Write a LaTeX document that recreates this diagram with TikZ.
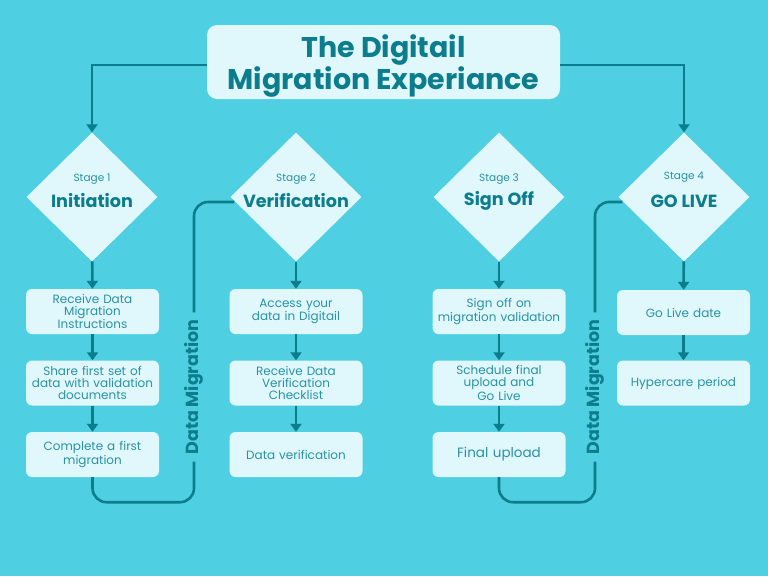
\documentclass[tikz,border=0pt]{standalone}
\usepackage{fontspec}
\setmainfont{Poppins}
\usepackage{tikz}
\usetikzlibrary{positioning}
\usetikzlibrary{shapes.geometric}
\usetikzlibrary{arrows.meta}
\definecolor{bgcyan}{HTML}{4ECFE2}
\definecolor{paleblue}{HTML}{E0F7FC}
\definecolor{darkteal}{HTML}{0B7D8C}
\definecolor{softteal}{HTML}{2893A3}
\tikzset{
    titlebox/.style = {rectangle, rounded corners=10pt, fill=paleblue, minimum width=353pt, minimum height=74pt, align=center, text=darkteal, text depth=0pt, font=\fontsize{28.5}{30}\selectfont\bfseries},
    stagenode/.style = {diamond, fill=paleblue, minimum width=131pt, minimum height=129pt, inner sep=0pt},
    stagelbl/.style = {text=softteal, font=\fontsize{10.5}{12}\selectfont},
    stagename/.style = {text=darkteal, font=\fontsize{17.6}{20}\selectfont\bfseries},
    stepnode/.style = {rectangle, rounded corners=6pt, fill=paleblue, minimum width=133pt, minimum height=45pt, text width=129pt, align=center, text=softteal, inner sep=2pt, font=\fontsize{12}{12}\selectfont},
    flow/.style = {draw=darkteal, line width=2.6pt},
    arr/.style = {flow, -{Triangle[width=11pt,length=8pt]}},
    loopline/.style = {flow, rounded corners=14pt},
    dmlabel/.style = {rotate=90, text=darkteal, inner sep=7pt, font=\fontsize{17.5}{18}\selectfont\bfseries},
}

\begin{document}
\begin{tikzpicture}[x=1pt,y=-1pt]
\fill[bgcyan] (0,0) rectangle (768,576);
\node[titlebox] (title) at (383.5,62) {The Digitail\\Migration Experiance};
%
\node[stagenode] (s1) at (92,197) {};
\node[stagenode] (s2) at (296,197) {};
\node[stagenode] (s3) at (499,197) {};
\node[stagenode] (s4) at (684,197) {};
\node[stagelbl] (l1) at (92,179) {Stage 1};
\node[stagelbl] (l2) at (296,179) {Stage 2};
\node[stagelbl] (l3) at (499,179) {Stage 3};
\node[stagelbl] (l4) at (684,177) {Stage 4};
\node[stagename] (n1) at (92,201) {Initiation};
\node[stagename] (n2) at (296,201) {Verification};
\node[stagename] (n3) at (499,201) {Sign Off};
\node[stagename] (n4) at (684,201) {GO LIVE};
%
\node[stepnode] (b11) at (92.5,311.5) {Receive Data\\Migration\\Instructions};
\node[stepnode] (b12) at (92.5,383) {Share first set of\\data with validation\\documents};
\node[stepnode] (b13) at (92.5,454.5) {Complete a first\\migration};
\node[stepnode] (b21) at (296,311.5) {Access your\\data in Digitail};
\node[stepnode] (b22) at (296,383) {Receive Data\\Verification\\Checklist};
\node[stepnode] (b23) at (296,454.5) {Data verification};
\node[stepnode] (b31) at (499,311.5) {Sign off on\\migration validation};
\node[stepnode] (b32) at (499,383) {Schedule final\\upload and\\Go Live};
\node[stepnode, font=\fontsize{13.5}{15}\selectfont] (b33) at (499,454.5) {Final upload};
\node[stepnode] (b41) at (683.5,312.5) {Go Live date};
\node[stepnode] (b42) at (683.5,383) {Hypercare period};
%
\node[dmlabel] (dm1) at (194,387) {Data Migration};
\node[dmlabel] (dm2) at (595,387) {Data Migration};
%
\draw[arr] ([yshift=-3pt]title.west) -| (s1.north);
\draw[arr] ([yshift=-3pt]title.east) -| (s4.north);
%
\draw[arr] (s1) -- (b11);
\draw[arr] (b11) -- (b12);
\draw[arr] (b12) -- (b13);
\draw[arr] (s2) -- (b21);
\draw[arr] (b21) -- (b22);
\draw[arr] (b22) -- (b23);
\draw[arr] (s3) -- (b31);
\draw[arr] (b31) -- (b32);
\draw[arr] (b32) -- (b33);
\draw[arr] (s4) -- (b41);
\draw[arr] (b41) -- (b42);
%
\draw[loopline] (b13.south) -- ++(0,25) -| (dm1.west);
\draw[loopline] (dm1.east) |- ([shift={(4pt,-5pt)}]s2.west);
\draw[loopline] (b33.south) -- ++(0,25) -| (dm2.west);
\draw[loopline] (dm2.east) |- ([shift={(4pt,-5pt)}]s4.west);
\end{tikzpicture}
\end{document}
